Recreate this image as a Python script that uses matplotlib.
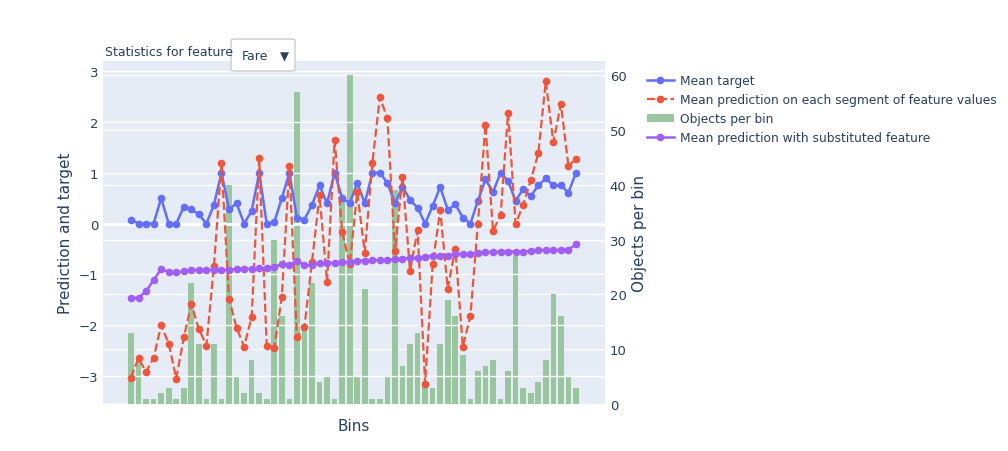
import matplotlib
matplotlib.use("Agg")
import matplotlib.pyplot as plt
from matplotlib.patches import FancyBboxPatch

mean_target = [0.08,0,0,0,0.5,0,0,0.33,0.28,0.18,0,0.37,1.0,0.28,0.4,0,0.25,1.0,0,0.03,
               0.5,1.0,0.12,0.08,0.37,0.75,0.4,1.0,0.5,0.4,0.8,0.4,1.0,1.0,0.8,0.4,0.72,0.47,0.31,0,
               0.35,0.72,0.27,0.38,0.12,0,0.45,0.87,0.62,1.0,0.84,0.45,0.68,0.54,0.75,0.89,0.75,0.75,0.61,1.0]
mean_pred = [-3.03,-2.65,-2.92,-2.64,-2.0,-2.36,-3.05,-2.24,-1.59,-2.07,-2.4,-0.83,1.19,-1.48,-2.05,-2.42,-1.84,1.29,-2.41,-2.44,
             -1.44,1.13,-2.24,-2.03,-0.75,0.56,-1.15,1.65,-0.16,-0.8,0.62,-0.57,1.19,2.49,2.07,-0.54,0.92,-0.93,-0.13,-3.15,
             -0.8,0.27,-1.28,-0.49,-2.42,-1.82,0.0,1.95,-0.14,0.16,2.18,-0.01,0.37,0.85,1.38,2.8,1.6,2.35,1.14,1.27]
objects = [13,8,1,1,2,3,1,3,22,11,1,11,1,40,5,2,8,2,1,30,
           16,1,57,14,22,4,5,1,37,60,5,21,1,1,5,39,7,11,13,4,
           3,11,19,16,9,1,6,7,8,1,6,27,3,2,4,8,20,16,5,3]
subst_pred = [-1.46,-1.46,-1.33,-1.11,-0.9,-0.95,-0.96,-0.94,-0.91,-0.91,-0.91,-0.91,-0.91,-0.91,-0.89,-0.89,-0.89,-0.88,-0.87,-0.85,
              -0.80,-0.81,-0.73,-0.82,-0.82,-0.78,-0.78,-0.77,-0.76,-0.76,-0.73,-0.73,-0.72,-0.72,-0.72,-0.70,-0.69,-0.68,-0.67,-0.65,
              -0.63,-0.64,-0.63,-0.60,-0.60,-0.59,-0.58,-0.56,-0.56,-0.55,-0.55,-0.55,-0.55,-0.54,-0.52,-0.52,-0.52,-0.52,-0.51,-0.41]
bins = list(range(len(mean_target)))

W, H = 1008, 452
fig = plt.figure(figsize=(W/100, H/100), dpi=100)
ax = fig.add_axes([103/W, 1-405/H, (605-103)/W, (405-62)/H])
ax2 = ax.twinx()
bg = '#e5ecf6'
ax2.set_zorder(0); ax.set_zorder(1); ax.patch.set_visible(False)
ax2.patch.set_visible(True); ax2.patch.set_facecolor(bg)

ax2.bar(bins, objects, width=0.75, color='#99c69e', label='Objects per bin', zorder=2)
ax2.set_ylim(0, 62.6)
ax2.set_yticks(range(0, 61, 10))
ax2.grid(axis='y', color='white', lw=1, zorder=0)
ax2.set_axisbelow(True)

ax.plot(bins, mean_target, '-o', color='#636efa', ms=4.5, lw=1.8, label='Mean target')
ax.plot(bins, mean_pred, '--o', color='#ef553b', ms=4.5, lw=1.6, label='Mean prediction on each segment of feature values')
ax.plot(bins, subst_pred, '-o', color='#a15ef5', ms=4.5, lw=1.8, label='Mean prediction with substituted feature')
ax.set_ylim(-3.55, 3.2)
ax.set_yticks(range(-3, 4))
ax.set_xlim(-3.71, 62.85)
ax.set_xticks([])
ax.grid(axis='y', color='white', lw=1)
ax.axhline(0, color='white', lw=2, zorder=0.5)

for a in (ax, ax2):
    for s in a.spines.values():
        s.set_visible(False)
    a.tick_params(length=0, labelsize=9.5, colors='#2a3f5f')
ax.set_ylabel('Prediction and target', fontsize=11, color='#2a3f5f')
ax2.set_ylabel('Objects per bin', fontsize=11, color='#2a3f5f')
ax.set_xlabel('Bins', fontsize=11, color='#2a3f5f', labelpad=10)

h1, l1 = ax.get_legend_handles_labels()
h2, l2 = ax2.get_legend_handles_labels()
handles = [h1[0], h1[1], h2[0], h1[2]]
labels = [l1[0], l1[1], l2[0], l1[2]]
fig.legend(handles, labels, loc='upper left', bbox_to_anchor=(636/W, 1-64/H), frameon=False,
           fontsize=8.8, labelcolor='#2a3f5f', handlelength=2.2, labelspacing=0.5, handletextpad=0.5)

fig.text(105/W, 1-53/H, 'Statistics for feature', fontsize=9, color='#2a3f5f', va='center')
box = FancyBboxPatch((231/W, 1-72/H), 64/W, 32/H, boxstyle='round,pad=0,rounding_size=0.004',
                     transform=fig.transFigure, facecolor='white', edgecolor='#cccccc', lw=1)
fig.patches.append(box)
fig.text(242/W, 1-57/H, 'Fare', fontsize=9, color='#2a3f5f', va='center')
fig.text(280/W, 1-57/H, '▼', fontsize=8.5, color='#2a3f5f', va='center')

fig.savefig('out.png', dpi=100)
